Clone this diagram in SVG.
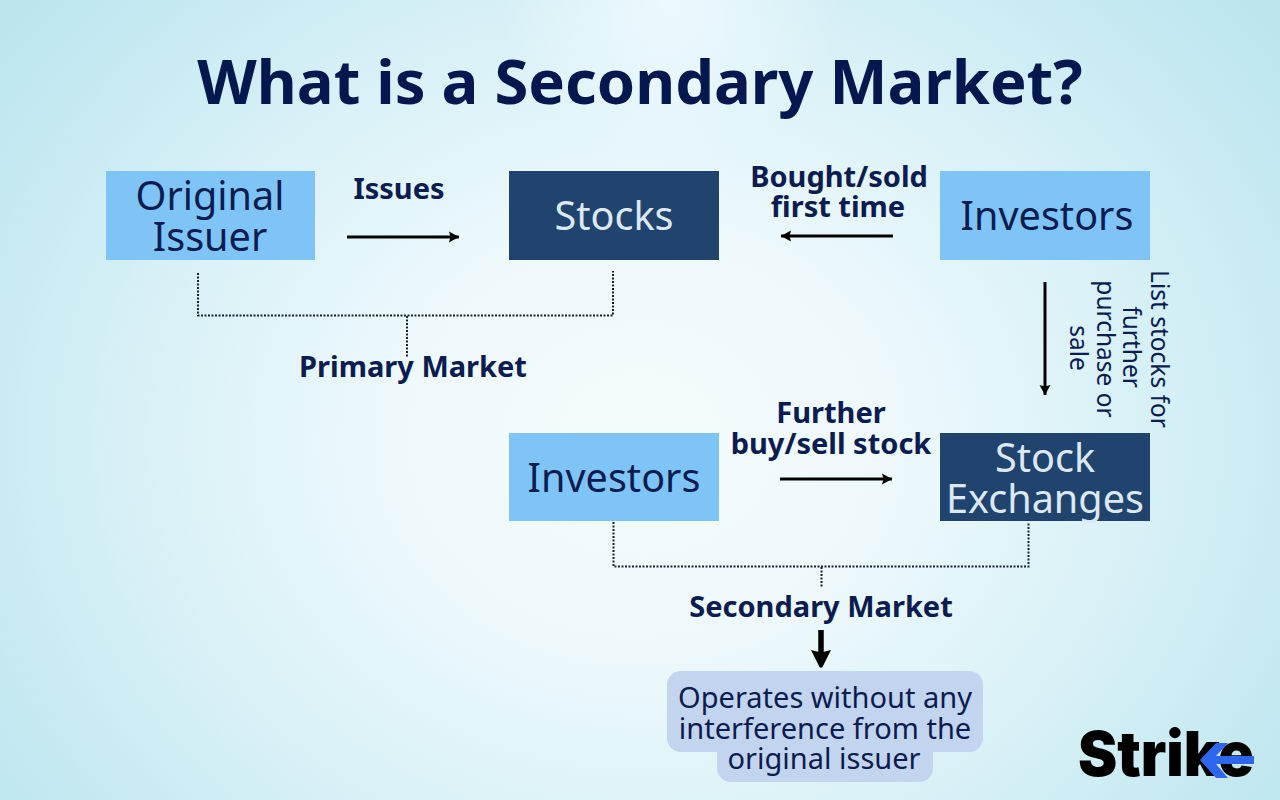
<svg xmlns="http://www.w3.org/2000/svg" width="1280" height="800" viewBox="0 0 1280 800">
<defs>
<radialGradient id="bg" gradientUnits="userSpaceOnUse" cx="640" cy="440" r="800" gradientTransform="translate(640 440) scale(1 .85) translate(-640 -440)">
<stop offset="0" stop-color="#f4fbfd"/><stop offset=".3" stop-color="#eef9fb"/><stop offset=".62" stop-color="#d8f1f7"/><stop offset="1" stop-color="#bce5ee"/>
</radialGradient>
<radialGradient id="glow" gradientUnits="userSpaceOnUse" cx="670" cy="0" r="170"><stop offset="0" stop-color="#f3fbfd" stop-opacity=".8"/><stop offset="1" stop-color="#f3fbfd" stop-opacity="0"/></radialGradient>
<marker id="ah" markerUnits="userSpaceOnUse" markerWidth="12" markerHeight="14" refX="10" refY="7" orient="auto"><path d="M0 1.500L10 7L0 12.500L1.500 7Z" fill="#000"/></marker>
<marker id="ahb" markerUnits="userSpaceOnUse" markerWidth="20" markerHeight="24" refX="6" refY="12" orient="auto"><path d="M1 2L18 10.500Q19.500 12 18 13.500L1 22L3.500 12Z" fill="#000"/></marker>
</defs>
<style>
text{font-family:"Noto Sans","Open Sans","Liberation Sans",sans-serif;fill:#0a1c50;text-anchor:middle}
.n{font-size:39.600px}
.l{font-size:29px;font-weight:700}
.s{font-size:24.500px}
.o{font-size:29px}
.light{fill:#7fc4f7}
.dark{fill:#21446f}
.w{fill:#dce9f5}
.a{stroke:#000;stroke-width:3;fill:none;marker-end:url(#ah)}
.d{stroke:#1a2230;stroke-width:2;stroke-dasharray:2 1.500;fill:none}
</style>
<rect width="1280" height="800" fill="url(#bg)"/>
<rect width="1280" height="200" fill="url(#glow)"/>
<text id="title" x="640" y="103.500" font-size="61.500" font-weight="700" style="fill:#04184f">What is a Secondary Market?</text>
<g id="connectors">
<path class="a" d="M347 237H459"/>
<path class="a" d="M893 236H781"/>
<path class="a" d="M1045 282V395"/>
<path class="a" d="M780 479H892"/>
<path d="M821 630V655" stroke="#000" stroke-width="5.500" fill="none" marker-end="url(#ahb)"/>
<path class="d" d="M198 273V315.500H613V271"/>
<path class="d" d="M407 316V357"/>
<path class="d" d="M613.500 522V566.500H1028.500V522"/>
<path class="d" d="M821.500 567V588"/>
</g>
<g id="original-issuer"><rect class="light" x="106" y="171" width="209" height="89"/><text class="n" x="210" y="210">Original</text><text class="n" x="210" y="251">Issuer</text></g>
<g id="stocks"><rect class="dark" x="509" y="171" width="210" height="89"/><text class="n w" x="614" y="230">Stocks</text></g>
<g id="investors-top"><rect class="light" x="940" y="171" width="210" height="89"/><text class="n" x="1047" y="230">Investors</text></g>
<g id="investors-bottom"><rect class="light" x="509" y="433" width="210" height="88"/><text class="n" x="614" y="491.500">Investors</text></g>
<g id="stock-exchanges"><rect class="dark" x="940" y="433" width="210" height="88"/><text class="n w" x="1045" y="472">Stock</text><text class="n w" x="1045" y="513">Exchanges</text></g>
<g id="labels">
<text class="l" x="399" y="198.500">Issues</text>
<text class="l" x="839" y="187">Bought/sold</text><text class="l" x="838" y="217">first time</text>
<text class="l" x="831" y="423">Further</text><text class="l" x="831" y="454">buy/sell stock</text>
<text class="l" x="413" y="377">Primary Market</text>
<text class="l" x="821" y="617">Secondary Market</text>
<text class="s" transform="translate(1151 349) rotate(90)">List stocks for</text>
<text class="s" transform="translate(1123 347) rotate(90)">further</text>
<text class="s" transform="translate(1097 349) rotate(90)">purchase or</text>
<text class="s" transform="translate(1070 348) rotate(90)">sale</text>
</g>
<g id="note">
<rect x="667" y="671" width="316" height="81" rx="14" fill="#c3d4ee"/>
<rect x="717" y="740" width="216" height="42" rx="14" fill="#c3d4ee"/>
<text class="o" x="825" y="707.500">Operates without any</text>
<text class="o" x="825" y="738.500">interference from the</text>
<text class="o" x="824" y="769">original issuer</text>
</g>
<g id="logo">
<text x="1078" y="776" font-size="62" font-weight="900" style="font-family:Inter,'Liberation Sans',sans-serif;fill:#000;text-anchor:start" textLength="176" lengthAdjust="spacingAndGlyphs">Strike</text>
<path d="M1200 760L1216 743H1228L1216 756H1254V764H1216L1228 778H1216Z" fill="#2f66f0"/>
</g>
</svg>
